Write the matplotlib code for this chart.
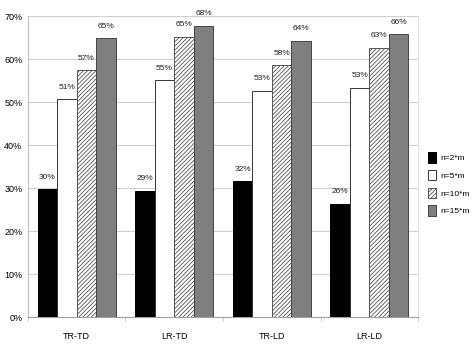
import matplotlib
matplotlib.use("Agg")
import matplotlib.pyplot as plt
import numpy as np
from matplotlib.ticker import FuncFormatter

categories = ["TR-TD", "LR-TD", "TR-LD", "LR-LD"]
series_names = ["n=2*m", "n=5*m", "n=10*m", "n=15*m"]
v_2m = [29.7, 29.3, 31.6, 26.4]
v_5m = [50.6, 55.1, 52.6, 53.3]
v_10m = [57.4, 65.2, 58.5, 62.6]
v_15m = [64.8, 67.8, 64.2, 65.8]
labels_2m = ["30%", "29%", "32%", "26%"]
labels_5m = ["51%", "55%", "53%", "53%"]
labels_10m = ["57%", "65%", "58%", "63%"]
labels_15m = ["65%", "68%", "64%", "66%"]

values = [v_2m, v_5m, v_10m, v_15m]
labels = [labels_2m, labels_5m, labels_10m, labels_15m]

plt.rcParams['font.family'] = ['Liberation Sans', 'DejaVu Sans']
plt.rcParams['hatch.color'] = '#555555'
plt.rcParams['hatch.linewidth'] = 0.6

fig = plt.figure(figsize=(4.74, 3.52), dpi=100)
ax = fig.add_axes([0.059, 0.0994, 0.823, 0.855])

styles = [
    dict(color='black', edgecolor='black', hatch=None),
    dict(color='white', edgecolor='#333333', hatch=None),
    dict(color='white', edgecolor='#555555', hatch='////////'),
    dict(color='#7f7f7f', edgecolor='#444444', hatch=None),
]

x = np.arange(len(categories))
w = 0.2
for i, (vals, labs, st) in enumerate(zip(values, labels, styles)):
    pos = x + (i - 1.5) * w
    bars = ax.bar(pos, vals, w, color=st['color'], edgecolor=st['edgecolor'],
                  hatch=st['hatch'], linewidth=0.7, label=series_names[i], zorder=3)
    for b, lab in zip(bars, labs):
        ax.text(b.get_x() + b.get_width() / 2, b.get_height() + 2.0, lab,
                ha='center', va='bottom', fontsize=6, color='#222222')

ax.set_xlim(-0.5, 3.5)
ax.set_ylim(0, 70)
ax.set_yticks(np.arange(0, 71, 10))
ax.yaxis.set_major_formatter(FuncFormatter(lambda v, p: f"{int(v)}%"))
ax.grid(axis='y', color='#d0d0d0', linewidth=0.8, zorder=0)
ax.set_xticks(x)
ax.set_xticklabels(categories)
ax.set_xticks(np.arange(-0.5, 4.0, 1.0), minor=True)
ax.tick_params(axis='x', which='major', length=0, pad=11, labelsize=6.5)
ax.tick_params(axis='x', which='minor', length=3, color='#c0c0c0')
ax.tick_params(axis='y', length=0, labelsize=6.5, pad=4)
ax.spines['top'].set_visible(False)
ax.spines['left'].set_color('#c0c0c0')
ax.spines['bottom'].set_color('#a0a0a0')
ax.spines['right'].set_color('#e0e0e0')

leg = ax.legend(loc='upper left', bbox_to_anchor=(1.0, 0.58), frameon=False,
                fontsize=6, handlelength=1.0, handleheight=1.5, handletextpad=0.5,
                labelspacing=0.9, borderaxespad=0.8)

fig.savefig("out.png", dpi=100)
